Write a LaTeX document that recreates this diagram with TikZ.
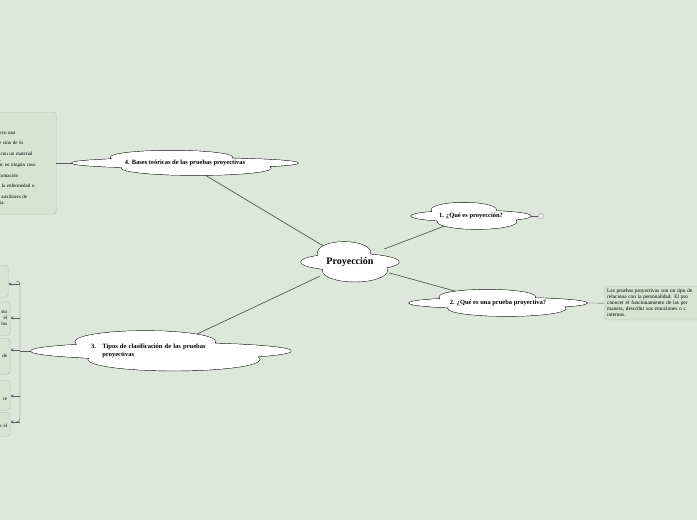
\documentclass[tikz,border=0pt]{standalone}
\usepackage{fontspec}
\setmainfont{Liberation Serif}
\definecolor{bg}{HTML}{DCE8D9}
\definecolor{boxc}{HTML}{D6E4D2}
\definecolor{lin}{HTML}{4F5F4F}
\tikzset{
 lbl/.style={ellipse, inner sep=0pt, font=\bfseries\fontsize{6.5}{7.5}\selectfont, align=left},
 con/.style={draw=lin, line width=0.7pt},
 tb/.style={draw=boxc!85!black, fill=boxc, rounded corners=3pt, line width=0.4pt, font=\fontsize{5}{5.6}\selectfont, align=left, anchor=north west, inner sep=3pt},
 thin/.style={draw=gray!70!black, line width=0.4pt},
 cdraw/.style={draw=black, line width=0.9pt},
 cfill/.style={fill=white},
}
\usetikzlibrary{shapes.geometric}
\newcommand{\cloudpart}[5]{%
  \path[#1]
   (#2,#3) ellipse [x radius=#4*0.5, y radius=#5*0.2]
   (#2-#4*0.06,#3-#5*0.22) ellipse [x radius=#4*0.27, y radius=#5*0.26]
   (#2+#4*0.05,#3+#5*0.2) ellipse [x radius=#4*0.33, y radius=#5*0.27];}
\newcommand{\mycloud}[4]{\cloudpart{cdraw}{#1}{#2}{#3}{#4}\cloudpart{cfill}{#1}{#2}{#3}{#4}}
\begin{document}
\begin{tikzpicture}[x=1pt,y=-1pt]
\fill[bg] (0,0) rectangle (697,520);
\useasboundingbox (0,0) rectangle (697,520);
% boxes
\node[tb, text width=58pt, minimum height=102pt] (bL) at (-8,112) {:\\[5pt] brevo una\\[5pt] nte sino de lo\\[5pt] o, con un material\\ da.\\ rgar en ningún caso\\[5pt] nformación\\[5pt] de la enfermedad o\\[5pt] os auxiliares de\\ apia.};
\node[tb, text width=120pt, font=\fontsize{5.3}{6}\selectfont] (bR) at (604,286) {Las pruebas proyectivas son un tipo de\\ relaciona con la personalidad. El pro\\ conocer el funcionamiento de las per\\ manera, describir sus emociones o c\\ internos.};
\node[tb, minimum width=14pt, minimum height=32pt] (c1) at (-6,265) {};
\node[tb, minimum width=14pt, minimum height=34pt, text width=10pt] (c2) at (-6,301) {\hfill sto\\\hfill el\\\hfill los};
\node[tb, minimum width=14pt, minimum height=36pt, text width=10pt] (c3) at (-6,338) {\hfill de};
\node[tb, minimum width=14pt, minimum height=30pt, text width=10pt] (c4) at (-6,380) {\\[6pt]\hfill re};
\node[tb, minimum width=14pt, minimum height=24pt, text width=10pt] (c5) at (-6,412) {\\[1pt]\hfill r el};
% label nodes (outline used for connectors)
\node[lbl, minimum width=98pt, minimum height=36pt] (P) at (350,262) {};
\node[lbl, minimum width=120pt, minimum height=22pt] (n1) at (471,216) {};
\node[lbl, minimum width=178pt, minimum height=22pt] (n2) at (498,303) {};
\node[lbl, minimum width=260pt, minimum height=32pt] (n3) at (161,351) {};
\node[lbl, minimum width=226pt, minimum height=20pt] (n4) at (185,163) {};
\node[circle, draw=gray, fill=white, line width=0.3pt, inner sep=0.6pt, font=\fontsize{4}{4}\selectfont, text=gray] (k) at (541,216) {5};
% connectors
\draw[con] (P) -- (n1);
\draw[con] (P) -- (n2);
\draw[con] (P) -- (n3);
\draw[con] (P) -- (n4);
\draw[thin] (n1.east) -- (k);
\draw[thin] (n2.east) -- (bR.west);
\draw[thin] (n4.west) -- (bL.east|-n4.west);
\coordinate (br) at (20,351);
\draw[thin] (n3.west) -- (br);
\draw[thin] (br) -- (20,284) to[out=90,in=0] (16,281);
\draw[thin] (br) -- (20,419) to[out=-90,in=0] (16,422);
\foreach \c/\y in {c1/284, c2/318, c3/350, c4/396, c5/422}{
  \draw[thin,->,>={stealth}] (20,\y) -- (\c.east|-0,\y);
}
% clouds
\mycloud{350}{262}{98}{42}
\mycloud{471}{216}{120}{28}
\mycloud{498}{303}{178}{28}
\mycloud{161}{351}{260}{42}
\mycloud{185}{163}{226}{26}
\node[font=\bfseries\fontsize{10}{11}\selectfont] at (P) {Proyección};
\node[lbl] at (n1) {1. ¿Qué es proyección?};
\node[lbl] at (n2) {2. ¿Qué es una prueba proyectiva?};
\node[lbl, text width=140pt] at (n3) {3.\quad Tipos de clasificación de las pruebas\\ \hphantom{3.\quad }proyectivas};
\node[lbl] at (n4) {4. Bases teóricas de las pruebas proyectivas};
\end{tikzpicture}
\end{document}
